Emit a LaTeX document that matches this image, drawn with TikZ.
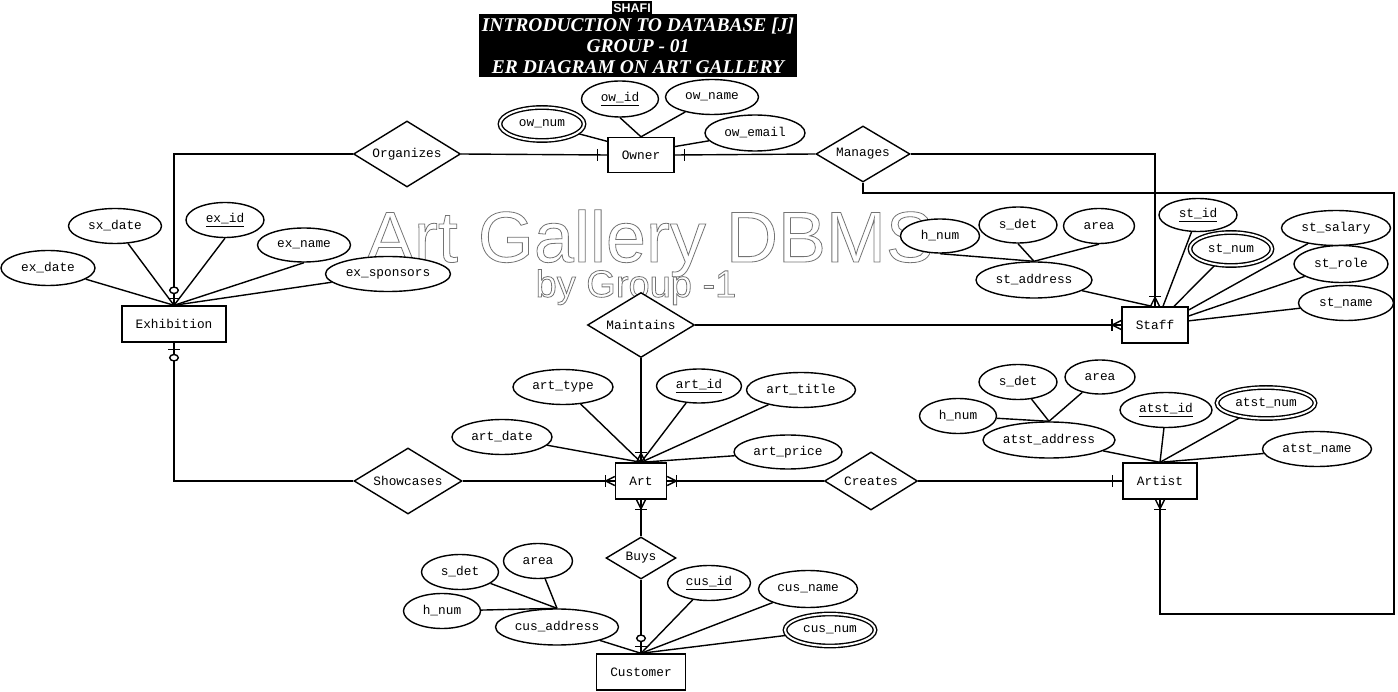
\documentclass[tikz,border=0pt]{standalone}
\usepackage{fontspec}
\setmainfont{Liberation Serif}
\newfontfamily\monof{Liberation Mono}
\newfontfamily\sansf{Liberation Sans}
\usetikzlibrary{shapes.geometric,calc}
\pgfdeclarelayer{bg}
\pgfsetlayers{bg,main}
\tikzset{
  base/.style={line width=1.4pt, font=\monof\fontsize{12.8}{14}\selectfont, inner sep=0pt},
  ent/.style={base, draw, fill=white, rectangle},
  rel/.style={base, draw, fill=white, diamond},
  att/.style={base, draw, fill=white, ellipse},
  matt/.style={base, draw, fill=white, ellipse, double=white, double distance=2pt},
  lnk/.style={line width=1.4pt},
  mk/.style={line width=1.4pt},
}
\newcommand{\outlinetext}[1]{\special{pdf:literal direct 1 Tr 0.8 w 0.45 G}#1\special{pdf:literal direct 0 Tr 0 G}}
\newcommand{\crowbar}[2]{\begin{scope}[shift={(#1)},rotate=#2]
  \draw[mk] (0,4.5)--(9,0)--(0,-4.5); \draw[mk] (9.5,6)--(9.5,-6);\end{scope}}
\newcommand{\onebar}[2]{\begin{scope}[shift={(#1)},rotate=#2]
  \draw[mk] (10,6)--(10,-6);\end{scope}}
\newcommand{\zeroone}[2]{\begin{scope}[shift={(#1)},rotate=#2]
  \draw[mk] (7,6)--(7,-6); \draw[mk,fill=white] (15,0) ellipse [x radius=3.2, y radius=4.3];\end{scope}}
\begin{document}
\begin{tikzpicture}[x=1pt,y=-1pt]
\useasboundingbox (0,0) rectangle (1398,692);

% title
\node[fill=black, text=white, font=\sansf\bfseries\fontsize{12.5}{12.5}\selectfont, minimum width=40, minimum height=13, inner sep=0pt] (shafi) at (632,8) {SHAFI};
\node[fill=black, text=white, minimum width=318, minimum height=63, inner sep=0pt, align=center, font=\bfseries\itshape\fontsize{19.5}{21}\selectfont] (title) at (638,45.5) {INTRODUCTION TO DATABASE [J]\\GROUP - 01\\ER DIAGRAM ON ART GALLERY};

% entities
\node[ent, minimum width=66, minimum height=35] (owner) at (641,155) {Owner};
\node[ent, minimum width=104, minimum height=36] (exhib) at (174,324) {Exhibition};
\node[ent, minimum width=66, minimum height=36] (staff) at (1155,325) {Staff};
\node[ent, minimum width=51, minimum height=36] (art) at (641,481) {Art};
\node[ent, minimum width=74, minimum height=36] (artist) at (1160,481) {Artist};
\node[ent, minimum width=89, minimum height=36] (cust) at (641,672) {Customer};

% relationships
\node[rel, minimum width=107, minimum height=66, aspect=1.62] (organizes) at (407,154) {Organizes};
\node[rel, minimum width=94, minimum height=56, aspect=1.68] (manages) at (863,154) {Manages};
\node[rel, minimum width=107, minimum height=65, aspect=1.65] (maintains) at (641,325) {Maintains};
\node[rel, minimum width=108, minimum height=66, aspect=1.64] (showcases) at (408,481) {Showcases};
\node[rel, minimum width=93, minimum height=58, aspect=1.6] (creates) at (871,481) {Creates};
\node[rel, minimum width=70, minimum height=42, aspect=1.67] (buys) at (641,558) {Buys};

% owner attributes
\node[att, minimum width=77, minimum height=36] (owid) at (620,99) {\underline{ow\_id}};
\node[att, minimum width=93, minimum height=35] (owname) at (712,97) {ow\_name};
\node[matt, minimum width=84, minimum height=33] (ownum) at (542,124) {ow\_num};
\node[att, minimum width=100, minimum height=36] (owemail) at (755,133) {ow\_email};

% exhibition attributes
\node[att, minimum width=94, minimum height=35] (exdate) at (48,268) {ex\_date};
\node[att, minimum width=93, minimum height=35] (sxdate) at (115,226) {sx\_date};
\node[att, minimum width=78, minimum height=35] (exid) at (225,220) {\underline{ex\_id}};
\node[att, minimum width=93, minimum height=34] (exname) at (304,245) {ex\_name};
\node[att, minimum width=125, minimum height=35] (exspons) at (388,274) {ex\_sponsors};

% staff attributes
\node[att, minimum width=78, minimum height=33] (stid) at (1198,215) {\underline{st\_id}};
\node[matt, minimum width=82, minimum height=33] (stnum) at (1231,249) {st\_num};
\node[att, minimum width=109, minimum height=35] (stsal) at (1336,228) {st\_salary};
\node[att, minimum width=94, minimum height=37] (strole) at (1341,264) {st\_role};
\node[att, minimum width=95, minimum height=35] (stname) at (1346,303) {st\_name};
\node[att, minimum width=116, minimum height=36] (staddr) at (1034,280) {st\_address};
\node[att, minimum width=79, minimum height=34] (sthnum) at (940,236) {h\_num};
\node[att, minimum width=78, minimum height=36] (stsdet) at (1018,225) {s\_det};
\node[att, minimum width=71, minimum height=35] (starea) at (1099,226) {area};

% art attributes
\node[att, minimum width=100, minimum height=35] (arttype) at (563,387) {art\_type};
\node[att, minimum width=85, minimum height=34] (artid) at (699,386) {\underline{art\_id}};
\node[att, minimum width=109, minimum height=35] (arttitle) at (801,390) {art\_title};
\node[att, minimum width=100, minimum height=35] (artdate) at (502,437) {art\_date};
\node[att, minimum width=108, minimum height=34] (artprice) at (788,452) {art\_price};

% artist attributes
\node[att, minimum width=78, minimum height=35] (asdet) at (1018,382) {s\_det};
\node[att, minimum width=70, minimum height=34] (aarea) at (1100,377) {area};
\node[att, minimum width=77, minimum height=35] (ahnum) at (958,416) {h\_num};
\node[att, minimum width=132, minimum height=36] (aaddr) at (1049,440) {atst\_address};
\node[att, minimum width=92, minimum height=35] (atstid) at (1166,410) {\underline{atst\_id}};
\node[matt, minimum width=98, minimum height=31] (atstnum) at (1266,403) {atst\_num};
\node[att, minimum width=109, minimum height=35] (atstname) at (1317,449) {atst\_name};

% customer attributes
\node[att, minimum width=77, minimum height=35] (csdet) at (460,572) {s\_det};
\node[att, minimum width=69, minimum height=35] (carea) at (538,561) {area};
\node[att, minimum width=77, minimum height=35] (chnum) at (442,611) {h\_num};
\node[att, minimum width=123, minimum height=36] (caddr) at (557,627) {cus\_address};
\node[att, minimum width=83, minimum height=35] (cusid) at (709,583) {\underline{cus\_id}};
\node[att, minimum width=99, minimum height=37] (cusname) at (808,589) {cus\_name};
\node[matt, minimum width=90, minimum height=32] (cusnum) at (830,630) {cus\_num};

\coordinate (c1) at (1394,193);
\coordinate (c2) at (1394,614);

\begin{pgfonlayer}{bg}
% watermark
\node[font=\sansf\fontsize{72}{72}\selectfont, anchor=base, inner sep=0pt] (wm1) at (650,262) {\outlinetext{Art Gallery DBMS}};
\node[font=\sansf\fontsize{38}{38}\selectfont, anchor=base, inner sep=0pt] (wm2) at (636,297) {\outlinetext{by Group -1}};

% relationship connectors
\draw[lnk] (exhib.north) |- (organizes.west);
\draw[lnk] (organizes.east) -- (owner.west);
\draw[lnk] (owner.east) -- (manages.west);
\draw[lnk] (manages.east) -| (staff.north);
\draw[lnk] (manages.south) |- (c1) -- (c2) -| (artist.south);
\draw[lnk] (maintains.east) -- (staff.west);
\draw[lnk] (maintains.south) -- (art.north);
\draw[lnk] (exhib.south) |- (showcases.west);
\draw[lnk] (showcases.east) -- (art.west);
\draw[lnk] (art.east) -- (creates.west);
\draw[lnk] (creates.east) -- (artist.west);
\draw[lnk] (art.south) -- (buys.north);
\draw[lnk] (buys.south) -- (cust.north);

% attribute connectors
\draw[lnk] (owid.south) -- (owner.north);
\draw[lnk] (owname) -- (owner.north);
\draw[lnk] (ownum) -- (owner.158);
\draw[lnk] (owemail) -- (owner.14);

\draw[lnk] (exdate) -- (exhib.north);
\draw[lnk] (sxdate) -- (exhib.north);
\draw[lnk] (exid.south) -- (exhib.north);
\draw[lnk] (exname.south) -- (exhib.north);
\draw[lnk] (exspons) -- (exhib.north);

\draw[lnk] (stid) -- ($(staff.north)+(8,0)$);
\draw[lnk] (stnum) -- ($(staff.north)+(19,0)$);
\draw[lnk] (stsal) -- (staff.24);
\draw[lnk] (strole) -- (staff.15);
\draw[lnk] (stname) -- (staff.7);
\draw[lnk] (staddr) -- ($(staff.north)+(-3,0)$);
\draw[lnk] (sthnum.south) -- (staddr.north);
\draw[lnk] (stsdet.south) -- (staddr.north);
\draw[lnk] (starea.south) -- (staddr.north);

\draw[lnk] (arttype) -- (art.north);
\draw[lnk] (artid) -- (art.north);
\draw[lnk] (arttitle) -- (art.north);
\draw[lnk] (artdate) -- (art.north);
\draw[lnk] (artprice) -- (art.north);

\draw[lnk] (asdet) -- (aaddr.north);
\draw[lnk] (aarea) -- (aaddr.north);
\draw[lnk] (ahnum) -- (aaddr.north);
\draw[lnk] (aaddr) -- (artist.north);
\draw[lnk] (atstid) -- (artist.north);
\draw[lnk] (atstnum) -- (artist.north);
\draw[lnk] (atstname) -- (artist.north);

\draw[lnk] (csdet) -- (caddr.north);
\draw[lnk] (carea) -- (caddr.north);
\draw[lnk] (chnum) -- (caddr.north);
\draw[lnk] (caddr) -- (cust.north);
\draw[lnk] (cusid) -- (cust.north);
\draw[lnk] (cusname) -- (cust.north);
\draw[lnk] (cusnum) -- (cust.north);
\end{pgfonlayer}

% cardinality markers
\zeroone{exhib.north}{90}
\zeroone{exhib.south}{270}
\onebar{owner.west}{180}
\onebar{owner.east}{0}
\crowbar{staff.north}{90}
\crowbar{staff.west}{180}
\crowbar{art.north}{90}
\crowbar{art.west}{180}
\crowbar{art.east}{0}
\crowbar{art.south}{270}
\onebar{artist.west}{180}
\crowbar{artist.south}{270}
\zeroone{cust.north}{90}
\end{tikzpicture}
\end{document}
